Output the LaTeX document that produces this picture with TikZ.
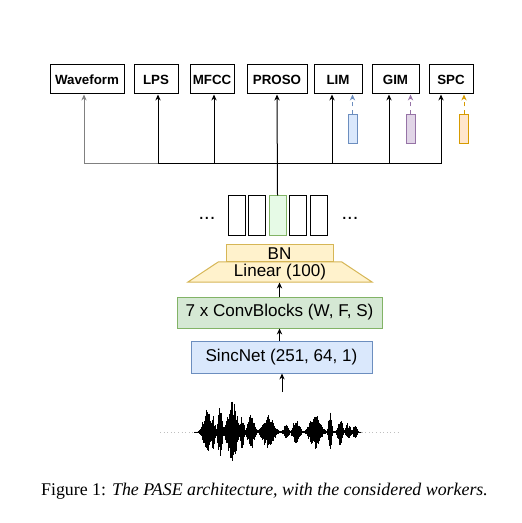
\documentclass[tikz,border=0pt]{standalone}
\usepackage{fontspec}
\setmainfont{Liberation Serif}
\setsansfont{Liberation Sans}
\usetikzlibrary{shapes.geometric,arrows.meta}
\definecolor{bluefill}{HTML}{DAE8FC}
\definecolor{bluedraw}{HTML}{6C8EBF}
\definecolor{greenfill}{HTML}{D5E8D4}
\definecolor{greendraw}{HTML}{82B366}
\definecolor{framefill}{HTML}{E6FAE6}
\definecolor{yellowfill}{HTML}{FFF2CC}
\definecolor{yellowdraw}{HTML}{D6B656}
\definecolor{purplefill}{HTML}{E1D5E7}
\definecolor{purpledraw}{HTML}{9673A6}
\definecolor{orangefill}{HTML}{FFE6CC}
\definecolor{orangedraw}{HTML}{D79B00}

\begin{document}
\begin{tikzpicture}[x=0.75pt, y=-0.75pt, line width=0.75pt,
    >={Stealth[length=4.5pt, width=4pt]},
    worker/.style={draw, inner sep=0, minimum height=21.75pt, font=\sffamily\bfseries\fontsize{10}{12}\selectfont},
    block/.style={draw, inner sep=0, font=\sffamily\fontsize{12.8}{14}\selectfont},
    frame/.style={draw, inner sep=0, minimum width=12.75pt, minimum height=30pt},
    target/.style={draw, inner sep=0, minimum width=6.75pt, minimum height=21.75pt},
    wave/.style={line width=0.7pt, black}]
    \useasboundingbox (0,0) rectangle (521,523);

    % workers
    \node[worker, minimum width=55.5pt] (wave) at (87, 79.5) {Waveform};
    \node[worker, minimum width=33pt] (lps) at (156, 79.5) {LPS};
    \node[worker, minimum width=33pt] (mfcc) at (212, 79.5) {MFCC};
    \node[worker, minimum width=45pt] (proso) at (277, 79.5) {PROSO};
    \node[worker, minimum width=36pt] (lim) at (338, 79.5) {LIM};
    \node[worker, minimum width=35.25pt] (gim) at (395.5, 79.5) {GIM};
    \node[worker, minimum width=33pt] (spc) at (451, 79.5) {SPC};

    % samples for the self-supervised workers
    \node[target, draw=bluedraw, fill=bluefill] (slim) at (352.5, 129.5) {};
    \node[target, draw=purpledraw, fill=purplefill] (sgim) at (410.5, 129.5) {};
    \node[target, draw=orangedraw, fill=orangefill] (sspc) at (464, 129.5) {};
    \draw[->, dashed, bluedraw] (slim.north) -- (slim.north |- lim.south);
    \draw[->, dashed, purpledraw] (sgim.north) -- (sgim.north |- gim.south);
    \draw[->, dashed, orangedraw] (sspc.north) -- (sspc.north |- spc.south);

    % encoder
    \node[block, draw=bluedraw, fill=bluefill, minimum width=135.75pt, minimum height=24pt] (sinc) at (281.5, 357) {SincNet (251, 64, 1)};
    \node[block, draw=greendraw, fill=greenfill, minimum width=153.75pt, minimum height=23.25pt] (conv) at (279.5, 312.5) {7 x ConvBlocks (W, F, S)};
    \node[block, trapezium, trapezium stretches body, trapezium angle=27.8, draw=yellowdraw, fill=yellowfill, minimum width=138pt, minimum height=15pt] (lin) at (280, 272) {Linear (100)};
    \node[block, draw=yellowdraw, fill=yellowfill, minimum width=80.25pt, minimum height=12.75pt] (bn) at (279.5, 253.5) {BN};

    % output frames
    \foreach \i in {0,...,4}
        \node[frame] (f\i) at (236.5+20.5*\i, 216) {};
    \node[frame, draw=greendraw, fill=framefill] (f2) at (277.5, 216) {};
    \node[font=\sffamily\fontsize{15}{15}\selectfont] (dl) at (207, 218) {...};
    \node[font=\sffamily\fontsize{15}{15}\selectfont] (dr) at (350, 218) {...};

    % bus to the workers
    \coordinate (tw) at (84, 164);
    \coordinate (tl) at (158, 164);
    \coordinate (tm) at (214, 164);
    \coordinate (tli) at (332, 164);
    \coordinate (tg) at (389, 164);
    \coordinate (ts) at (441, 164);
    \draw[->, gray] (tw) -- (tw |- wave.south);
    \draw[gray] (tw) -- (tl);
    \draw (tl) -- (ts);
    \foreach \t/\b in {tl/lps, tm/mfcc, tli/lim, tg/gim, ts/spc}
        \draw[->] (\t) -- (\t |- \b.south);
    \draw[->] (f2.north) -- (proso.south);

    \coordinate (in) at (282, 392);
    \draw[->] (in) -- (sinc.south -| in);
    \draw[->] (sinc.north -| conv) -- (conv.south);
    \draw[->] (conv.north) -- (lin.south -| conv);

    % speech signal
    \draw[gray!50, dotted, line width=0.7pt] (160, 432) -- (400, 432);
    \draw[wave, line width=1.2pt] (200, 432) -- (358, 432);
    \pgfmathsetseed{11}
    \foreach \c/\w/\a in {207/5/24, 213/2/18, 220/2.5/28, 232/6/32, 242/2/20, 251/4/18, 268/7/17,
        286/3/8, 296/4/13, 315/7/17, 330/2/24, 340/3/14, 348/3/9, 355/2.5/8} {
        \pgfmathsetmacro{\xa}{\c-2.5*\w}
        \pgfmathsetmacro{\xn}{\xa+0.5}
        \pgfmathsetmacro{\xb}{\c+2.5*\w}
        \foreach \x in {\xa,\xn,...,\xb} {
            \pgfmathsetmacro{\env}{\a*exp(-((\x-\c)/\w)^2)}
            \pgfmathsetmacro{\hi}{\env*(0.45+0.55*rnd)}
            \pgfmathsetmacro{\lo}{\env*(0.45+0.55*rnd)}
            \draw[wave] (\x, 432-\hi) -- (\x, 432+\lo);
        }
    }

    \node[font=\fontsize{13.4}{16}\selectfont] (cap) at (264.5, 491) {Figure 1: \textit{The PASE architecture, with the considered workers.}};
\end{tikzpicture}
\end{document}
